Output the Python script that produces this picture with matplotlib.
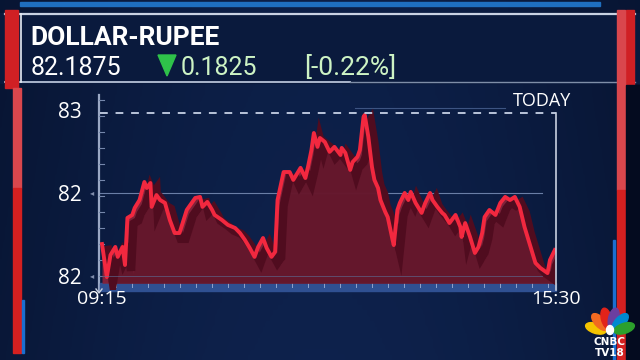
import numpy as np
import matplotlib.pyplot as plt
from matplotlib.patches import Rectangle, Ellipse, Polygon

# minutes after 09:15 and USD/INR level
minutes = [0, 4, 7, 11, 13, 17, 19, 21, 25, 27, 31, 35, 37, 40, 41, 45, 48, 52, 56, 60,
           64, 70, 77, 81, 83, 87, 91, 93, 99, 104, 110, 114, 118, 122, 126, 129, 133, 136, 140, 143,
           145, 150, 155, 158, 164, 168, 170, 173, 175, 178, 180, 184, 188, 192, 197, 198, 201, 205, 207, 211,
           213, 216, 217, 220, 223, 225, 228, 230, 234, 236, 240, 241, 244, 246, 250, 253, 255, 259, 264, 267,
           271, 273, 277, 281, 283, 287, 292, 296, 297, 300, 304, 308, 311, 314, 316, 320, 325, 329, 333, 337,
           341, 345, 349, 354, 358, 362, 368, 370, 374]
price = [82.154, 81.995, 82.101, 82.140, 82.092, 82.140, 82.053, 82.280, 82.294, 82.328,
         82.366, 82.453, 82.424, 82.448, 82.333, 82.390, 82.366, 82.352, 82.270, 82.207,
         82.207, 82.318, 82.376, 82.381, 82.333, 82.357, 82.318, 82.294, 82.270, 82.246,
         82.231, 82.207, 82.174, 82.135, 82.092, 82.140, 82.183, 82.135, 82.092, 82.116,
         82.366, 82.501, 82.501, 82.463, 82.521, 82.472, 82.521, 82.607, 82.689, 82.622,
         82.665, 82.646, 82.598, 82.622, 82.583, 82.617, 82.593, 82.511, 82.549, 82.574,
         82.607, 82.766, 82.776, 82.670, 82.525, 82.463, 82.424, 82.366, 82.308, 82.284,
         82.174, 82.149, 82.318, 82.352, 82.400, 82.366, 82.405, 82.352, 82.304, 82.352,
         82.400, 82.366, 82.333, 82.304, 82.294, 82.255, 82.294, 82.236, 82.188, 82.255,
         82.188, 82.111, 82.140, 82.207, 82.284, 82.318, 82.294, 82.352, 82.381, 82.366,
         82.381, 82.333, 82.236, 82.140, 82.063, 82.039, 82.014, 82.077, 82.125]

ytick_vals = [82.0, 82.4, 82.8]
ytick_labels = ["82", "82", "83"]
xtick_vals = [0, 375]
xtick_labels = ["09:15", "15:30"]
prev_level = 82.785

title = "DOLLAR-RUPEE"
last = "82.1875"
change = "0.1825"
pct = "[-0.22%]"

W, H = 640, 360
fig = plt.figure(figsize=(6.4, 3.6), dpi=100)

# background axes in pixel units
bg = fig.add_axes([0, 0, 1, 1], zorder=0)
bg.set_xlim(0, W)
bg.set_ylim(H, 0)
bg.axis("off")

grad = np.linspace(0, 1, 256)
gx, gy = np.meshgrid(grad, np.linspace(0, 1, 64))
img = 0.55 + 0.45 * np.sin(np.pi * gx) * 0.8 + 0.1 * gy
bg.imshow(img, extent=[0, W, H, 0], cmap=plt.cm.colors.LinearSegmentedColormap.from_list(
    "navy", ["#06112b", "#0f2451"]), vmin=0.4, vmax=1.1, aspect="auto", zorder=0)

# header band
bg.add_patch(Rectangle((0, 13), W, 70, color="#0a1a3d", zorder=1))
bg.add_patch(Rectangle((20, 2), 580, 4, color="#1f6fc0", zorder=2))
bg.plot([5, 635], [13.5, 13.5], color="#c9d2e3", lw=1.6, zorder=3)
bg.plot([5, 350], [82, 82], color="#aab6cc", lw=1.4, zorder=3)
bg.plot([350, 635], [82, 82], color="#7f8ea8", lw=1.0, zorder=3)
bg.plot([20.5, 20.5], [14, 82], color="#e8ecf4", lw=1.2, zorder=3)

# side bars
bg.add_patch(Rectangle((5, 10), 13, 78, color="#d02024", zorder=4))
bg.add_patch(Rectangle((13, 88), 8, 100, color="#d9474d", zorder=4))
bg.add_patch(Rectangle((13, 188), 8, 165, color="#d42020", zorder=4))
bg.add_patch(Rectangle((22, 300), 2, 53, color="#1b6fd0", zorder=4))
bg.add_patch(Rectangle((626, 10), 8, 75, color="#d02024", zorder=4))
bg.add_patch(Rectangle((617, 10), 8, 180, color="#d9474d", zorder=4))
bg.add_patch(Rectangle((617, 190), 8, 170, color="#d42020", zorder=4))
bg.add_patch(Rectangle((613, 240), 2, 120, color="#1b6fd0", zorder=4))
bg.add_patch(Rectangle((626, 85), 14, 275, color="#040b1f", zorder=4))

# header texts
bg.text(30, 45, title, color="white", fontsize=19, fontweight="bold",
        family=["Roboto", "DejaVu Sans"], va="baseline", zorder=5)
narrow = ["Liberation Sans Narrow", "Roboto", "DejaVu Sans"]
bg.text(31, 75, last, color="white", fontsize=18, family=narrow, va="baseline", zorder=5)
bg.add_patch(Polygon([[158, 55], [176, 55], [167, 76]], closed=True, color="#2fc24a", zorder=5))
bg.text(181, 75, change, color="#cdf3c4", fontsize=18, family=narrow, va="baseline", zorder=5)
bg.text(304, 75, pct, color="#cdf3c4", fontsize=19, family=narrow, va="baseline", zorder=5)

# left axis and bottom strip
bg.plot([99, 99], [95, 291], color="#9aa8c4", lw=1.6, zorder=3)
for ty in np.arange(100, 290, 16):
    bg.plot([99, 104], [ty, ty], color="#7587ab", lw=0.8, zorder=3)
bg.add_patch(Rectangle((100, 283), 456, 8, color="#2f5092", zorder=3))
for tx in np.arange(116, 556, 16):
    bg.plot([tx, tx], [283, 287], color="#8fa4cc", lw=0.7, zorder=3)
bg.plot([96, 99, 102], [289, 293, 289], color="#c8d0e0", lw=1, zorder=3)
for ty in [193, 276]:
    bg.text(92, ty, "\u25c2", color="#7f8cab", fontsize=6, ha="center", va="center", zorder=3)

bg.text(542, 101, "TODAY", color="white", fontsize=13, ha="center", va="center",
        family=["Open Sans", "DejaVu Sans"], zorder=5)
bg.plot([355, 505], [107.5, 107.5], color="#3d5482", lw=0.8, zorder=3)

# peacock logo
cx, cy = 610, 333
cols = ["#f5c400", "#f26a21", "#e2231a", "#6b3fa0", "#0089d0", "#2ca02c"]
for ang, col in zip([-72, -43, -14, 14, 43, 72], cols):
    t = np.radians(ang)
    bg.add_patch(Ellipse((cx + 15 * np.sin(t), cy - 15 * np.cos(t)), 10, 21, angle=ang,
                         color=col, zorder=6))
bg.add_patch(Ellipse((cx, cy - 3), 7, 9, color="white", zorder=7))
bg.text(cx, 342, "CNBC", color="white", fontsize=7.5, fontweight="bold", ha="center",
        va="center", family=["DejaVu Sans"], zorder=7)
bg.text(cx, 353, "TV18", color="white", fontsize=7.5, fontweight="bold", ha="center",
        va="center", family=["DejaVu Sans"], zorder=7)

# price chart
ax = fig.add_axes([100 / W, (H - 290) / H, 456 / W, 195 / H], zorder=2)
ax.patch.set_alpha(0)
ax.set_xlim(-1.65, 375)
ax.set_ylim(81.9325, 82.872)
for s in ax.spines.values():
    s.set_visible(False)

x = np.array(minutes, dtype=float)
y = np.array(price)
base = 81.965

ax.fill_between(x, y, base, color="#86233a", alpha=0.95, lw=0, zorder=1)
ax.fill_between(x + 7, y - 0.04, base, color="#4f0f22", alpha=0.55, lw=0, zorder=2)
ax.plot(x + 5, y - 0.028, color="#500c1f", lw=6, zorder=3, solid_joinstyle="miter")
ax.plot(x, y, color="#f2283f", lw=2.8, zorder=4)

ax.axhline(82.4, xmin=0, xmax=0.97, color="#6a7ea6", lw=0.8, zorder=0)
ax.axhline(82.0, xmin=0, xmax=0.97, color="#5d6f99", lw=0.6, zorder=5, alpha=0.7)
ax.axhline(prev_level, color="#b9c4da", lw=1.4, ls=(0, (4, 4)), zorder=5)
ax.plot([375, 375], [81.9325, prev_level], color="#c8d0e0", lw=1.2, clip_on=False, zorder=5)

ax.set_yticks(ytick_vals)
ax.set_yticklabels(ytick_labels)
ax.set_xticks(xtick_vals)
ax.set_xticklabels(xtick_labels)
ax.tick_params(axis="y", length=0, pad=13, labelsize=15, labelcolor="white")
ax.tick_params(axis="x", length=0, pad=0, labelsize=14, labelcolor="white")
for lab in ax.get_yticklabels() + ax.get_xticklabels():
    lab.set_family(["Open Sans", "DejaVu Sans"])

fig.savefig("out.png", dpi=100)
